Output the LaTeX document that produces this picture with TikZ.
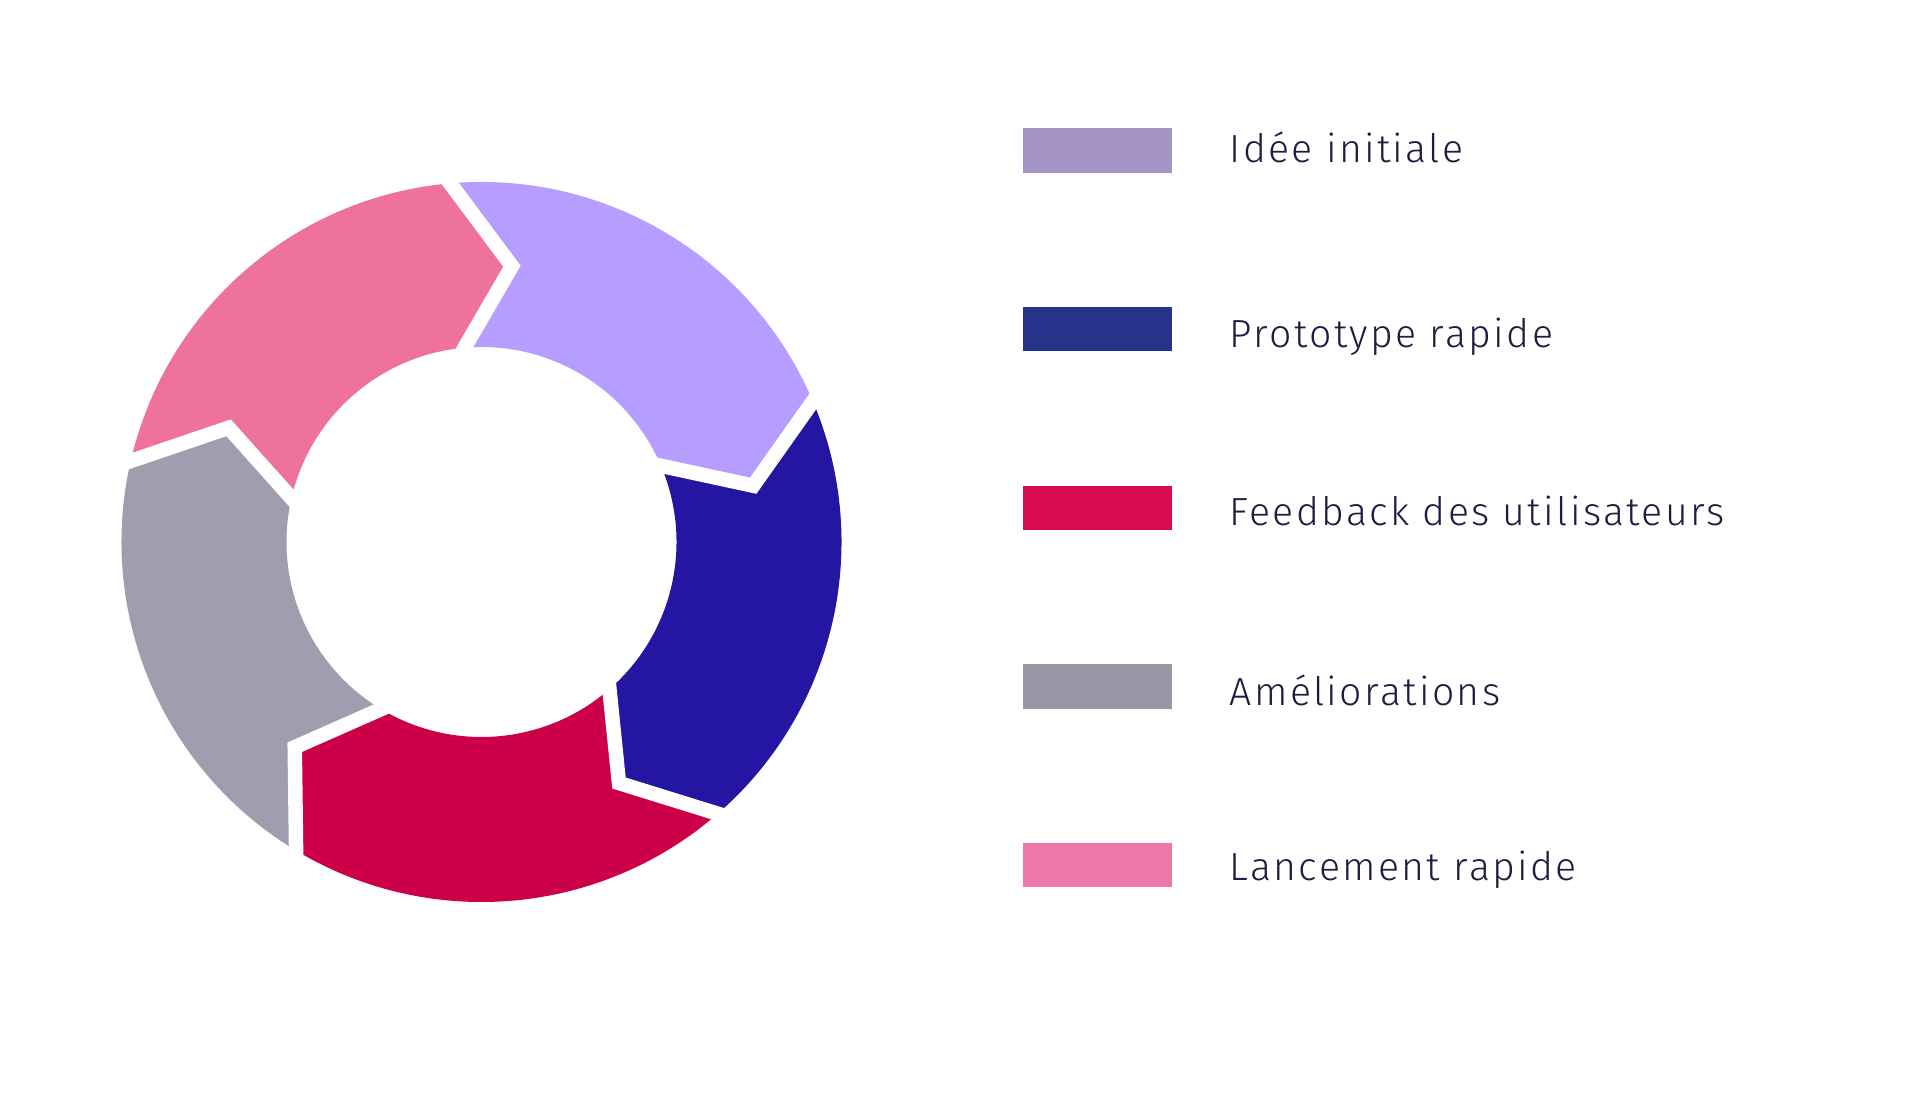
\documentclass[tikz,border=0pt]{standalone}
\usepackage{fontspec}
\newfontfamily\legendfont{Fira Sans Light}[LetterSpace=6]
\usetikzlibrary{calc,positioning}

\definecolor{segIdee}{HTML}{B59EFF}
\definecolor{segProto}{HTML}{2416A3}
\definecolor{segFeed}{HTML}{CC0048}
\definecolor{segAmel}{HTML}{A19CAE}
\definecolor{segLance}{HTML}{EE719E}
\definecolor{keyIdee}{HTML}{A594C6}
\definecolor{keyProto}{HTML}{27328A}
\definecolor{keyFeed}{HTML}{DA0A4E}
\definecolor{keyAmel}{HTML}{9A96A6}
\definecolor{keyLance}{HTML}{EF77A7}
\definecolor{textnavy}{HTML}{1F1C42}

\begin{document}
\begin{tikzpicture}[
x=0.5pt,y=0.5pt,
gap/.style={draw=white,line width=7.25pt,line join=miter},
key/.style={rectangle,inner sep=0pt,minimum width=74.5pt,minimum height=22.2pt},
entry/.style={font=\legendfont\fontsize{19.6}{23}\selectfont,text=textnavy,inner sep=0pt,anchor=base west}
]

\fill[white] (0,0) rectangle (1920,1102);

% Size of the ring
\def\Ro{360}
\def\Ri{195}
\def\Rm{277.5}
\def\tip{11.3}

\begin{scope}[shift={(481.5,560)}]
% Draw segments clockwise from the top
\foreach \col [count=\k from 0] in {segIdee,segProto,segFeed,segAmel,segLance}{
  \pgfmathsetmacro\s{95-72*\k}
  \pgfmathsetmacro\e{\s-72}
  \fill [\col] (\s:\Ro) arc[start angle=\s,end angle=\e,radius=\Ro]
    -- ({\e-\tip}:\Rm) -- (\e:\Ri) arc[start angle=\e,end angle=\s,radius=\Ri]
    -- ({\s-\tip}:\Rm) -- cycle;
}

% Draw gaps between segments
\foreach \k in {0,...,4}{
  \pgfmathsetmacro\s{95-72*\k}
  \coordinate (t\k) at ({\s-\tip}:\Rm);
  \draw [gap] ($(t\k)!1.2!(\s:\Ro)$) -- (t\k) -- ($(t\k)!1.2!(\s:\Ri)$);
}
\end{scope}

% Draw legend
\foreach \col/\dy/\txt [count=\i from 0] in {keyIdee/6.1/Idée initiale,keyProto/9/Prototype rapide,keyFeed/9.05/Feedback des utilisateurs,keyAmel/9.25/Améliorations,keyLance/7.85/Lancement rapide}{
  \node [key,fill=\col] (k\i) at (1097.2,951.5-178.7*\i) {};
  \node [entry] (e\i) at ([xshift=28.6pt,yshift=-\dy pt]k\i.east) {\txt};
}
\end{tikzpicture}
\end{document}
